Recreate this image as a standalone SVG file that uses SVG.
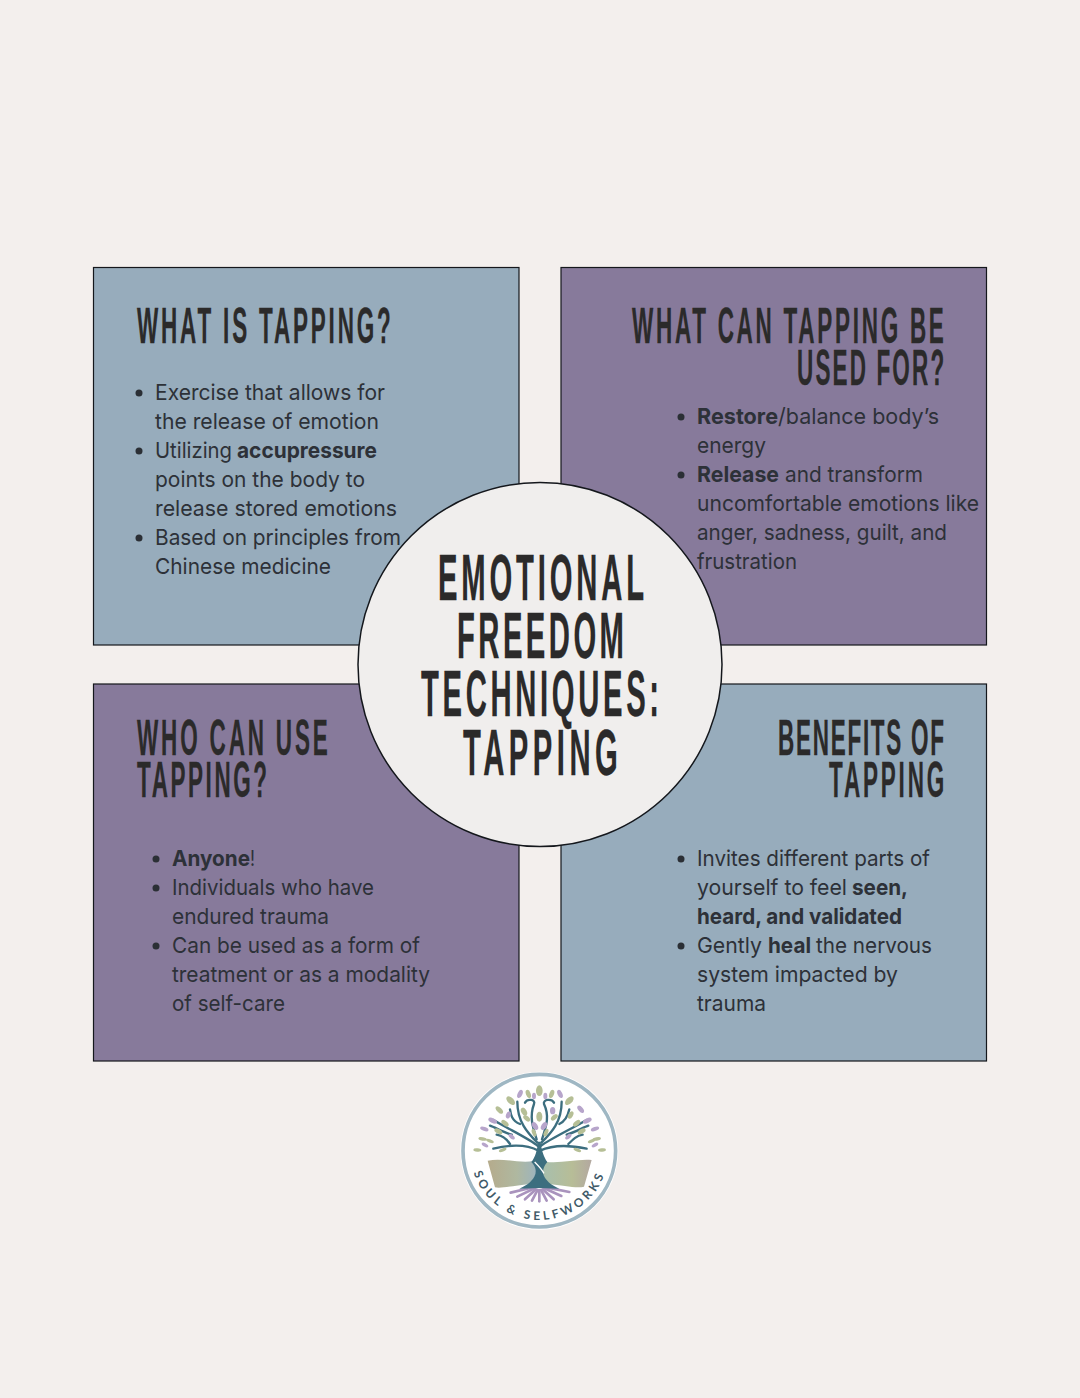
<svg xmlns="http://www.w3.org/2000/svg" width="1080" height="1398" viewBox="0 0 1080 1398">
<style>
.h{font:700 50px "Liberation Sans",Arial,sans-serif;fill:#2b2a2a;stroke:#2b2a2a;stroke-width:.3}
.c{font:700 65px "Liberation Sans",Arial,sans-serif;fill:#2b2a2a;stroke:#2b2a2a;stroke-width:.3}
.b{font:400 22px Inter,"Liberation Sans",sans-serif;fill:#2d3138}
.s{font-weight:700}
.box{stroke:#14171c;stroke-width:1.2}
.blue{fill:#97acbc}.pur{fill:#877a9b}
.dot{fill:#2b2f35}
.lg{fill:#b6bf96}.ll{fill:#b7a5cb}
.br{fill:none;stroke:#3c6e7f;stroke-linecap:round}
.rt{stroke:#a993bd;stroke-width:8;stroke-linecap:round;fill:none}
.lt{font:700 36px "Lato","Liberation Sans",sans-serif;fill:#3f5a68;letter-spacing:10.500px}
</style>
<defs>
<linearGradient id="bl" x1="0" x2="1"><stop offset="0" stop-color="#b5ab8c"/><stop offset=".6" stop-color="#afb8a0"/><stop offset="1" stop-color="#9db4bd"/></linearGradient>
<linearGradient id="br" x1="0" x2="1"><stop offset="0" stop-color="#a7bfae"/><stop offset=".6" stop-color="#b7bd97"/><stop offset="1" stop-color="#b3a8a0"/></linearGradient>
<path id="arc" d="M90,272A208,208 0 0 0 506,272"/>
</defs>
<rect width="1080" height="1398" fill="#f3efed"/>
<g id="connectors"/>
<g id="what-is-tapping">
<rect class="box blue" x="93.500" y="267.500" width="425.500" height="377.500"/>
<text class="h" transform="translate(137 343) scale(.45 1)" textLength="564">WHAT IS TAPPING?</text>
<circle class="dot" cx="139" cy="393" r="3.500"/><circle class="dot" cx="139" cy="451" r="3.500"/><circle class="dot" cx="139" cy="538" r="3.500"/>
<text class="b" x="155" y="400" textLength="230" lengthAdjust="spacingAndGlyphs">Exercise that allows for</text>
<text class="b" x="155" y="429" textLength="224" lengthAdjust="spacingAndGlyphs">the release of emotion</text>
<text class="b" y="458"><tspan x="155" textLength="77" lengthAdjust="spacingAndGlyphs">Utilizing</tspan> <tspan class="s" x="237" textLength="140" lengthAdjust="spacingAndGlyphs">accupressure</tspan></text>
<text class="b" x="155" y="487" textLength="210" lengthAdjust="spacingAndGlyphs">points on the body to</text>
<text class="b" x="155" y="516" textLength="242" lengthAdjust="spacingAndGlyphs">release stored emotions</text>
<text class="b" x="155" y="545" textLength="246" lengthAdjust="spacingAndGlyphs">Based on principles from</text>
<text class="b" x="155" y="574" textLength="176" lengthAdjust="spacingAndGlyphs">Chinese medicine</text>
</g>
<g id="what-for">
<rect class="box pur" x="561" y="267.500" width="425.500" height="377.500"/>
<text class="h" transform="translate(632 343) scale(.45 1)" textLength="693">WHAT CAN TAPPING BE</text>
<text class="h" transform="translate(797 385) scale(.45 1)" textLength="327">USED FOR?</text>
<circle class="dot" cx="681" cy="417" r="3.500"/><circle class="dot" cx="681" cy="475" r="3.500"/>
<text class="b" y="424"><tspan class="s" x="697" textLength="81" lengthAdjust="spacingAndGlyphs">Restore</tspan><tspan x="778" textLength="161" lengthAdjust="spacingAndGlyphs">/balance body’s</tspan></text>
<text class="b" x="697" y="453" textLength="69" lengthAdjust="spacingAndGlyphs">energy</text>
<text class="b" y="482"><tspan class="s" x="697" textLength="82" lengthAdjust="spacingAndGlyphs">Release</tspan> <tspan x="785" textLength="138" lengthAdjust="spacingAndGlyphs">and transform</tspan></text>
<text class="b" x="697" y="511" textLength="282" lengthAdjust="spacingAndGlyphs">uncomfortable emotions like</text>
<text class="b" x="697" y="540" textLength="250" lengthAdjust="spacingAndGlyphs">anger, sadness, guilt, and</text>
<text class="b" x="697" y="569" textLength="100" lengthAdjust="spacingAndGlyphs">frustration</text>
</g>
<g id="who-can-use">
<rect class="box pur" x="93.500" y="684" width="425.500" height="377"/>
<text class="h" transform="translate(137 755) scale(.45 1)" textLength="424">WHO CAN USE</text>
<text class="h" transform="translate(137 797) scale(.45 1)" textLength="289">TAPPING?</text>
<circle class="dot" cx="156" cy="859" r="3.500"/><circle class="dot" cx="156" cy="888" r="3.500"/><circle class="dot" cx="156" cy="946" r="3.500"/>
<text class="b" y="866"><tspan class="s" x="172" textLength="78" lengthAdjust="spacingAndGlyphs">Anyone</tspan><tspan x="250" textLength="5" lengthAdjust="spacingAndGlyphs">!</tspan></text>
<text class="b" x="172" y="895" textLength="202" lengthAdjust="spacingAndGlyphs">Individuals who have</text>
<text class="b" x="172" y="924" textLength="157" lengthAdjust="spacingAndGlyphs">endured trauma</text>
<text class="b" x="172" y="953" textLength="248" lengthAdjust="spacingAndGlyphs">Can be used as a form of</text>
<text class="b" x="172" y="982" textLength="258" lengthAdjust="spacingAndGlyphs">treatment or as a modality</text>
<text class="b" x="172" y="1011" textLength="113" lengthAdjust="spacingAndGlyphs">of self-care</text>
</g>
<g id="benefits">
<rect class="box blue" x="561" y="684" width="425.500" height="377"/>
<text class="h" transform="translate(778 755) scale(.45 1)" textLength="369">BENEFITS OF</text>
<text class="h" transform="translate(829 797) scale(.45 1)" textLength="256">TAPPING</text>
<circle class="dot" cx="681" cy="859" r="3.500"/><circle class="dot" cx="681" cy="946" r="3.500"/>
<text class="b" x="697" y="866" textLength="233" lengthAdjust="spacingAndGlyphs">Invites different parts of</text>
<text class="b" y="895"><tspan x="697" textLength="150" lengthAdjust="spacingAndGlyphs">yourself to feel</tspan> <tspan class="s" x="852" textLength="56" lengthAdjust="spacingAndGlyphs">seen,</tspan></text>
<text class="b s" x="697" y="924" textLength="205" lengthAdjust="spacingAndGlyphs">heard, and validated</text>
<text class="b" y="953"><tspan x="697" textLength="65" lengthAdjust="spacingAndGlyphs">Gently</tspan> <tspan class="s" x="768" textLength="43" lengthAdjust="spacingAndGlyphs">heal</tspan> <tspan x="816" textLength="116" lengthAdjust="spacingAndGlyphs">the nervous</tspan></text>
<text class="b" x="697" y="982" textLength="201" lengthAdjust="spacingAndGlyphs">system impacted by</text>
<text class="b" x="697" y="1011" textLength="69" lengthAdjust="spacingAndGlyphs">trauma</text>
</g>
<g id="center">
<circle cx="540" cy="664.500" r="182" fill="#f0eeed" stroke="#14171c" stroke-width="1.500"/>
<text class="c" transform="translate(438 600) scale(.45 1)" textLength="458">EMOTIONAL</text>
<text class="c" transform="translate(457 658) scale(.45 1)" textLength="371">FREEDOM</text>
<text class="c" transform="translate(421 716) scale(.45 1)" textLength="529">TECHNIQUES:</text>
<text class="c" transform="translate(463 775) scale(.45 1)" textLength="344">TAPPING</text>
</g>
<g id="logo" transform="translate(440 1060) scale(.3333)">
<circle cx="298" cy="272" r="237" fill="#fff"/>
<circle cx="298" cy="272" r="229" fill="#fff" stroke="#9fb7c3" stroke-width="11"/>
<path d="M143,302C190,292 240,312 280,303C296,325 290,352 268,372C225,376 185,386 165,382Z" fill="url(#bl)"/>
<path d="M455,300C410,296 360,312 316,305C300,325 305,352 326,372C370,376 410,386 432,380Z" fill="url(#br)"/>
<g class="rt">
<path d="M280,382L212,398"/><path d="M284,385L232,410"/><path d="M288,388L255,418"/><path d="M293,390L276,422"/><path d="M298,390L298,424"/><path d="M303,390L320,422"/><path d="M308,388L341,418"/><path d="M313,385L364,408"/><path d="M318,382L388,396"/>
</g>
<path d="M294,245L302,245C304,270 312,292 322,306C308,322 306,338 314,352C322,366 338,378 358,386L298,384L238,386C258,378 274,366 282,352C290,338 290,322 274,306C286,292 292,270 294,245Z" fill="#3c6e7f"/>
<path d="M284,306C296,318 304,326 312,340" fill="none" stroke="#fff" stroke-width="4"/>
<g class="br" stroke-width="7">
<path d="M296,272C270,258 225,250 160,266"/><path d="M300,272C330,258 375,252 440,266"/>
<path d="M294,258C270,238 215,212 160,180"/><path d="M302,258C330,238 380,214 440,180"/>
<path d="M292,248C262,218 232,185 232,125"/><path d="M304,248C335,218 365,185 365,125"/>
<path d="M240,192C215,182 212,162 210,148"/><path d="M358,192C380,182 385,162 388,148"/>
<path d="M290,238C278,200 268,170 282,132C288,118 262,115 255,128"/><path d="M306,238C318,200 330,170 312,132C308,118 335,115 342,128"/>
<path d="M215,224C190,217 165,202 150,197"/><path d="M380,224C405,217 430,202 445,197"/>
<path d="M210,252C200,237 190,227 170,224"/><path d="M385,252C400,237 410,227 428,224"/>
</g>
<g>
<ellipse class="lg" cx="298" cy="92" rx="10" ry="16"/>
<ellipse class="ll" cx="240" cy="102" rx="7" ry="13" transform="rotate(25 240 102)"/>
<ellipse class="lg" cx="265" cy="102" rx="7" ry="13" transform="rotate(-20 265 102)"/>
<ellipse class="lg" cx="335" cy="102" rx="7" ry="13" transform="rotate(20 335 102)"/>
<ellipse class="ll" cx="360" cy="102" rx="7" ry="13" transform="rotate(-25 360 102)"/>
<ellipse class="lg" cx="212" cy="122" rx="9" ry="16" transform="rotate(-45 212 122)"/>
<ellipse class="lg" cx="388" cy="122" rx="9" ry="16" transform="rotate(45 388 122)"/>
<ellipse class="ll" cx="282" cy="108" rx="6" ry="10"/>
<ellipse class="ll" cx="316" cy="108" rx="6" ry="10"/>
<ellipse class="lg" cx="178" cy="150" rx="7" ry="14" transform="rotate(-45 178 150)"/>
<ellipse class="ll" cx="205" cy="165" rx="7" ry="11" transform="rotate(20 205 165)"/>
<ellipse class="lg" cx="252" cy="155" rx="8" ry="13" transform="rotate(-30 252 155)"/>
<ellipse class="ll" cx="338" cy="152" rx="8" ry="11"/>
<ellipse class="lg" cx="392" cy="165" rx="7" ry="12" transform="rotate(30 392 165)"/>
<ellipse class="ll" cx="422" cy="148" rx="7" ry="13" transform="rotate(-40 422 148)"/>
<ellipse class="lg" cx="298" cy="170" rx="9" ry="15"/>
<ellipse class="lg" cx="260" cy="175" rx="7" ry="12" transform="rotate(-50 260 175)"/>
<ellipse class="lg" cx="343" cy="172" rx="7" ry="12" transform="rotate(50 343 172)"/>
<ellipse class="ll" cx="158" cy="182" rx="7" ry="14" transform="rotate(-65 158 182)"/>
<ellipse class="ll" cx="442" cy="182" rx="7" ry="14" transform="rotate(65 442 182)"/>
<ellipse class="lg" cx="195" cy="190" rx="7" ry="13" transform="rotate(-50 195 190)"/>
<ellipse class="lg" cx="410" cy="190" rx="7" ry="13" transform="rotate(50 410 190)"/>
<ellipse class="ll" cx="285" cy="198" rx="8" ry="13" transform="rotate(-30 285 198)"/>
<ellipse class="ll" cx="312" cy="198" rx="8" ry="13" transform="rotate(30 312 198)"/>
<ellipse class="ll" cx="133" cy="207" rx="6" ry="13" transform="rotate(-70 133 207)"/>
<ellipse class="ll" cx="465" cy="207" rx="6" ry="13" transform="rotate(70 465 207)"/>
<ellipse class="lg" cx="175" cy="214" rx="7" ry="13" transform="rotate(-60 175 214)"/>
<ellipse class="lg" cx="425" cy="214" rx="7" ry="13" transform="rotate(60 425 214)"/>
<ellipse class="ll" cx="215" cy="230" rx="6" ry="11" transform="rotate(-50 215 230)"/>
<ellipse class="ll" cx="385" cy="230" rx="6" ry="11" transform="rotate(50 385 230)"/>
<ellipse class="lg" cx="282" cy="218" rx="6" ry="12" transform="rotate(-20 282 218)"/>
<ellipse class="lg" cx="318" cy="218" rx="6" ry="12" transform="rotate(25 318 218)"/>
<ellipse class="lg" cx="128" cy="237" rx="5" ry="13" transform="rotate(-80 128 237)"/>
<ellipse class="lg" cx="470" cy="237" rx="5" ry="13" transform="rotate(80 470 237)"/>
<ellipse class="lg" cx="150" cy="243" rx="5" ry="12" transform="rotate(-70 150 243)"/>
<ellipse class="lg" cx="455" cy="243" rx="5" ry="12" transform="rotate(70 455 243)"/>
<ellipse class="ll" cx="135" cy="255" rx="5" ry="11" transform="rotate(-60 135 255)"/>
<ellipse class="ll" cx="465" cy="255" rx="5" ry="11" transform="rotate(60 465 255)"/>
<ellipse class="lg" cx="112" cy="270" rx="5" ry="12" transform="rotate(-85 112 270)"/>
<ellipse class="lg" cx="486" cy="270" rx="5" ry="12" transform="rotate(85 486 270)"/>
<ellipse class="lg" cx="188" cy="270" rx="5" ry="12" transform="rotate(70 188 270)"/>
<ellipse class="lg" cx="412" cy="270" rx="5" ry="12" transform="rotate(-70 412 270)"/>
</g>
<text class="lt"><textPath href="#arc" startOffset="50%" text-anchor="middle">SOUL &amp; SELFWORKS</textPath></text>
</g>
</svg>
